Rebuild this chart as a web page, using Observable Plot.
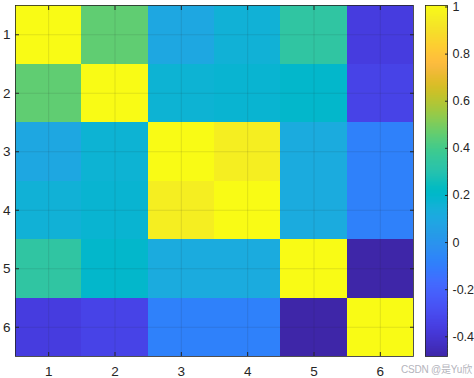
<!DOCTYPE html>
<html>
<head>
<meta charset="utf-8">
<script src="https://cdn.jsdelivr.net/npm/d3@7"></script>
<script src="https://cdn.jsdelivr.net/npm/@observablehq/plot@0.6"></script>
<style>
  html, body { margin: 0; padding: 0; background: #fff; }
  #wrap { position: relative; width: 474px; height: 378px; overflow: hidden; }
  #wrap svg { position: absolute; top: 0; }
  #mark { position: absolute; left: 401px; top: 361px; font: 10px "Liberation Sans", "Noto Sans CJK SC", sans-serif; letter-spacing: -0.2px; color: #b4b4bc; white-space: nowrap; }
</style>
</head>
<body>
<div id="wrap"><div id="mark">CSDN @是Yu欣</div></div>
<script>
// ---- data ----
const labels = [1, 2, 3, 4, 5, 6];
const row1 = [1.00, 0.45, 0.09, 0.15, 0.33, -0.37];
const row2 = [0.45, 1.00, 0.16, 0.17, 0.19, -0.34];
const row3 = [0.09, 0.16, 1.00, 0.95, 0.11, -0.09];
const row4 = [0.15, 0.17, 0.95, 1.00, 0.11, -0.09];
const row5 = [0.33, 0.19, 0.11, 0.11, 1.00, -0.49];
const row6 = [-0.37, -0.34, -0.09, -0.09, -0.49, 1.00];
const colorTicks = [-0.4, -0.2, 0, 0.2, 0.4, 0.6, 0.8, 1];

// MATLAB parula colormap (64 entries)
const parulaRGB = [
[0.2422,0.1504,0.6603],[0.2504,0.1650,0.7076],[0.2578,0.1818,0.7511],[0.2647,0.1978,0.7952],
[0.2706,0.2147,0.8364],[0.2751,0.2342,0.8710],[0.2783,0.2559,0.8991],[0.2803,0.2782,0.9221],
[0.2813,0.3006,0.9414],[0.2810,0.3228,0.9579],[0.2795,0.3447,0.9717],[0.2760,0.3667,0.9829],
[0.2699,0.3892,0.9906],[0.2602,0.4123,0.9952],[0.2440,0.4358,0.9988],[0.2206,0.4603,0.9973],
[0.1963,0.4847,0.9892],[0.1834,0.5074,0.9798],[0.1786,0.5289,0.9682],[0.1764,0.5499,0.9520],
[0.1687,0.5703,0.9359],[0.1540,0.5902,0.9218],[0.1460,0.6091,0.9079],[0.1380,0.6276,0.8973],
[0.1248,0.6459,0.8883],[0.1113,0.6635,0.8763],[0.0952,0.6798,0.8598],[0.0689,0.6948,0.8394],
[0.0297,0.7082,0.8163],[0.0036,0.7203,0.7917],[0.0067,0.7312,0.7660],[0.0433,0.7411,0.7394],
[0.0964,0.7500,0.7120],[0.1408,0.7584,0.6842],[0.1717,0.7670,0.6554],[0.1938,0.7758,0.6251],
[0.2161,0.7843,0.5923],[0.2470,0.7918,0.5567],[0.2906,0.7973,0.5188],[0.3406,0.8008,0.4789],
[0.3909,0.8029,0.4354],[0.4456,0.8024,0.3909],[0.5044,0.7993,0.3480],[0.5616,0.7942,0.3045],
[0.6174,0.7876,0.2612],[0.6720,0.7793,0.2227],[0.7242,0.7698,0.1910],[0.7738,0.7598,0.1646],
[0.8203,0.7498,0.1535],[0.8634,0.7406,0.1596],[0.9035,0.7330,0.1774],[0.9393,0.7288,0.2100],
[0.9728,0.7298,0.2394],[0.9956,0.7434,0.2371],[0.9970,0.7659,0.2199],[0.9952,0.7893,0.2028],
[0.9892,0.8136,0.1885],[0.9786,0.8386,0.1766],[0.9676,0.8639,0.1643],[0.9610,0.8890,0.1537],
[0.9597,0.9135,0.1423],[0.9628,0.9373,0.1265],[0.9691,0.9606,0.1064],[0.9769,0.9839,0.0805]];
const parula = d3.piecewise(d3.interpolateRgb, parulaRGB.map(c => d3.rgb(c[0]*255, c[1]*255, c[2]*255)));

const matrix = [row1, row2, row3, row4, row5, row6];
const cells = [];
matrix.forEach((r, i) => r.forEach((v, j) => cells.push({row: labels[i], col: labels[j], value: v})));
const cmin = d3.min(cells, d => d.value), cmax = d3.max(cells, d => d.value);
const colorOpts = {type: "linear", domain: [cmin, cmax], interpolate: parula};
const axisColor = "#262626";
const font = {fontFamily: "'Liberation Sans', Arial, Helvetica, sans-serif", fontSize: "13.5px", color: axisColor, background: "transparent", overflow: "visible"};

const main = Plot.plot({
  width: 474, height: 378,
  marginLeft: 15, marginRight: 61, marginTop: 5, marginBottom: 22,
  x: {domain: [0.5, 6.5]},
  y: {domain: [0.5, 6.5], reverse: true},
  color: colorOpts,
  style: font,
  marks: [
    Plot.rect(cells, {x1: d => d.col - 0.5, x2: d => d.col + 0.5, y1: d => d.row - 0.5, y2: d => d.row + 0.5, fill: "value", shapeRendering: "crispEdges"}),
    Plot.ruleX(labels, {x: d => d, stroke: axisColor, strokeOpacity: 0.2, strokeWidth: 0.6}),
    Plot.ruleY(labels, {y: d => d, stroke: axisColor, strokeOpacity: 0.2, strokeWidth: 0.6}),
    Plot.frame({stroke: axisColor, strokeWidth: 0.8}),
    Plot.axisX({anchor: "bottom", ticks: labels, tickSize: -4, tickPadding: 14, tickFormat: d => String(d), label: null, stroke: axisColor}),
    Plot.axisX({anchor: "top", ticks: labels, tickSize: -4, tickFormat: () => "", label: null, stroke: axisColor}),
    Plot.axisY({anchor: "left", ticks: labels, tickSize: -4, tickPadding: 9, tickFormat: d => String(d), label: null, stroke: axisColor}),
    Plot.axisY({anchor: "right", ticks: labels, tickSize: -4, tickFormat: () => "", label: null, stroke: axisColor})
  ]
});
main.style.left = "0px";

const nSteps = 256;
const step = (cmax - cmin) / nSteps;
const bands = d3.range(nSteps).map(i => ({lo: cmin + i * step, hi: cmin + (i + 1) * step, mid: cmin + (i + 0.5) * step}));

const bar = Plot.plot({
  width: 59, height: 378,
  marginLeft: 10, marginRight: 27, marginTop: 5, marginBottom: 22,
  x: {domain: [0, 1], axis: null},
  y: {domain: [cmin, cmax]},
  color: colorOpts,
  style: {...font, fontSize: "12.5px"},
  marks: [
    Plot.rect(bands, {x1: 0, x2: 1, y1: "lo", y2: "hi", fill: "mid", stroke: "mid", strokeWidth: 0.5, shapeRendering: "crispEdges"}),
    Plot.frame({stroke: axisColor, strokeWidth: 0.8}),
    Plot.axisY({anchor: "right", ticks: colorTicks, tickSize: -3, tickPadding: 8, dy: 1.5, tickFormat: d => String(d), label: null, stroke: axisColor})
  ]
});
bar.style.left = "415px";

const wrap = document.getElementById("wrap");
wrap.insertBefore(main, wrap.firstChild);
wrap.insertBefore(bar, main.nextSibling);
</script>
</body>
</html>
